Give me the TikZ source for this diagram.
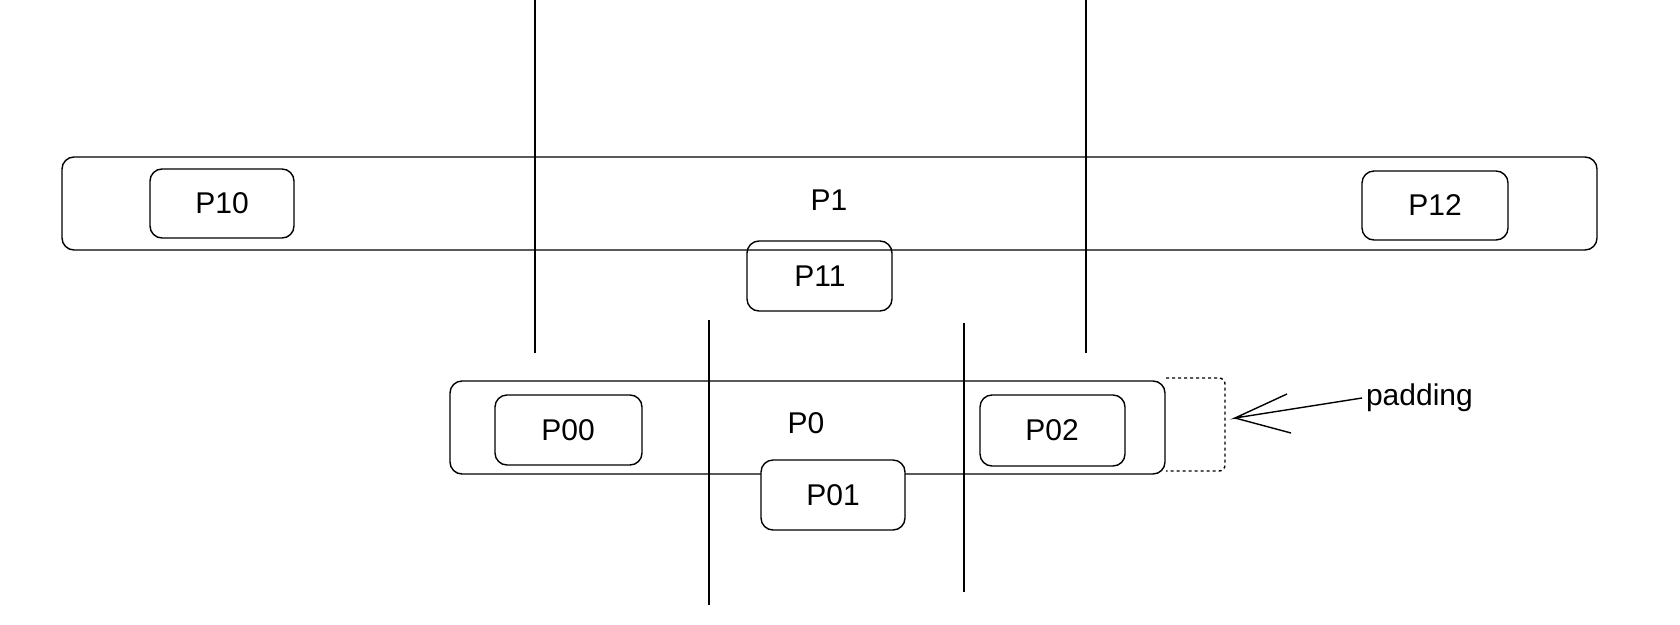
\documentclass[tikz,border=0pt]{standalone}
\usepackage{fontspec}
\setmainfont{Liberation Sans}
\begin{document}
\begin{tikzpicture}[x=1pt,y=-1pt,line width=1.4pt,
  box/.style={draw,rounded corners=12pt},
  lbl/.style={font=\fontsize{30}{34}\selectfont}]
\useasboundingbox (0,0) rectangle (1680,624);
\draw[box] (62,157) rectangle (1597,250);
\draw[box] (150,169) rectangle (294,238); \node[lbl] (p10) at (222,203) {P10};
\node[lbl] (p1) at (829,200) {P1};
\draw[box] (1362,171) rectangle (1508,240); \node[lbl] (p12) at (1435,205) {P12};
\draw[box] (747,241) rectangle (892,311); \node[lbl] (p11) at (820,276) {P11};
\draw (535,0) -- (535,353); \draw (1086,0) -- (1086,353);
\draw[box] (450,381) rectangle (1165,474);
\draw[box] (495,395) rectangle (642,465); \node[lbl] (p00) at (568,430) {P00};
\node[lbl] (p0) at (806,423) {P0};
\draw[box] (980,395) rectangle (1125,466); \node[lbl] (p02) at (1052,430) {P02};
\draw[box,fill=white] (761,460) rectangle (905,530); \node[lbl] (p01) at (833,495) {P01};
\draw (709,320) -- (709,605); \draw (964,323) -- (964,592);
\draw[dashed,rounded corners=6pt] (1166,378) -- (1225,378) -- (1225,471) -- (1166,471);
\node[lbl,anchor=west] (pad) at (1362,398) {padding};
\coordinate (tip) at (1235,418);
\draw (pad.west) -- (tip) -- (1287,394);
\draw (tip) -- (1291,433);
\end{tikzpicture}
\end{document}
